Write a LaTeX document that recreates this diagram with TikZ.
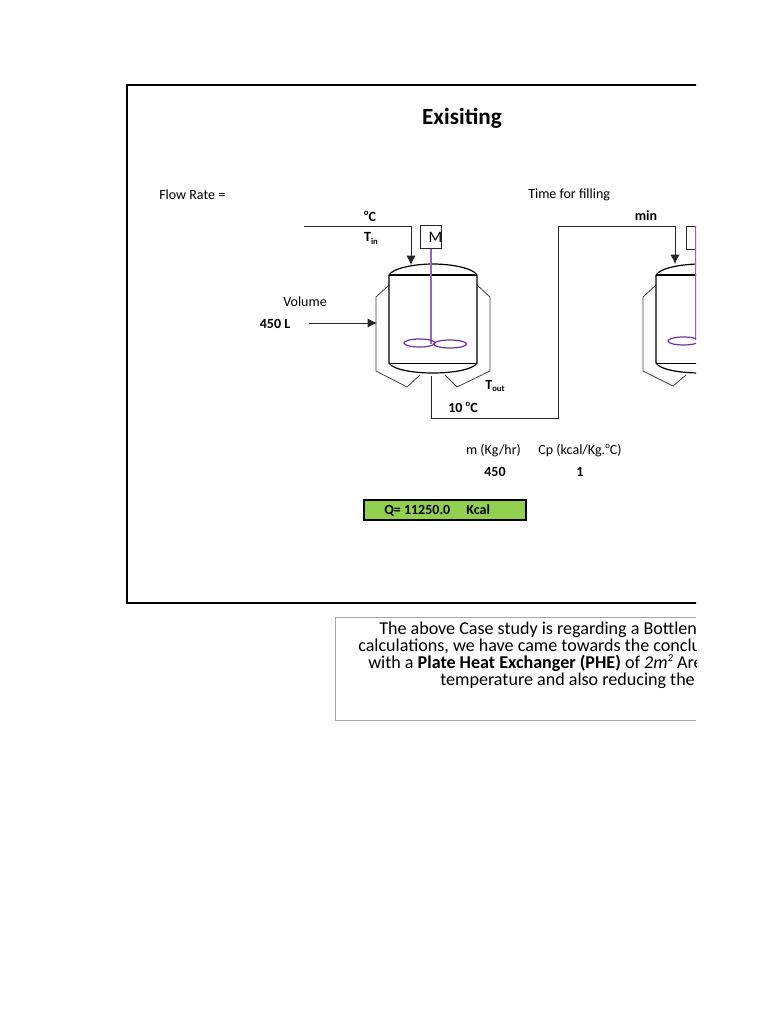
\documentclass[tikz,border=0pt]{standalone}
\usepackage{fontspec}
\setmainfont{Carlito}
\usetikzlibrary{arrows.meta}
\definecolor{agit}{HTML}{7030A0}
\definecolor{jack}{HTML}{404040}
\definecolor{qgreen}{HTML}{92D050}
\newcommand{\degsup}{\raisebox{0.42em}{\fontsize{6.5pt}{7pt}\selectfont o}}
\newcommand{\lowsub}[1]{\raisebox{-0.2em}{\fontsize{6.5pt}{7pt}\selectfont #1}}
\tikzset{
  lbl/.style={inner sep=0pt,font=\fontsize{10.5pt}{12pt}\selectfont},
  blbl/.style={inner sep=0pt,font=\fontsize{10.5pt}{12pt}\selectfont\bfseries},
  pipe/.style={draw=black!85,line width=0.75pt},
  flow/.style={pipe,-{Latex[length=7pt,width=7pt]}},
  vessel/.style={draw=black,line width=0.9pt},
  topline/.style={draw=black,line width=1.4pt},
  jacket/.style={draw=jack,line width=0.6pt},
  motor/.style={draw=black!85,line width=0.6pt,fill=white,minimum width=15.75pt,minimum height=17.5pt,inner sep=0pt},
  shaft/.style={draw=agit!75,line width=0.8pt},
  blade/.style={draw=agit,line width=0.9pt},
  para/.style={inner sep=0pt,anchor=base west,font=\fontsize{13.55pt}{15pt}\selectfont}
}
\begin{document}
\begin{tikzpicture}[x=0.75pt,y=-0.75pt]
\useasboundingbox[fill=white] (0,0) rectangle (768,1024);
\begin{scope}
\clip (0,0) rectangle (696,1024);
% frame
\draw[draw=black,line width=1.6pt] (800,85) -- (127,85) -- (127,603) -- (800,603);
\node[inner sep=0pt,font=\fontsize{17.4pt}{19pt}\selectfont\bfseries] (title) at (462,118) {Exisiting};
\node[lbl,anchor=west] (flowrate) at (159,195) {Flow Rate =};
\node[lbl,anchor=west] (timefill) at (528,195) {Time for filling};
\node[blbl] (degc) at (370,216) {\degsup C};
\node[blbl] (tin) at (371,238.5) {T\lowsub{in}};
\node[blbl] (minlbl) at (646,216) {min};
\node[lbl] (volume) at (305,302) {Volume};
\node[blbl] (vol) at (275,324) {450 L};
\node[blbl] (tout) at (495,386) {T\lowsub{out}};
\node[blbl] (tenc) at (463,407.5) {10 \degsup C};
\node[lbl] (mlbl) at (493.5,450.5) {m (Kg/hr)};
\node[lbl] (cplbl) at (580,450.5) {Cp (kcal/Kg.\degsup C)};
\node[blbl] (mval) at (495,472) {450};
\node[blbl] (cpval) at (580,472) {1};
\node[draw=black,line width=1.6pt,fill=qgreen,minimum width=122pt,minimum height=14.5pt,inner sep=0pt] (qbox) at (445,510) {};
\node[blbl,anchor=west] (qtext) at (384,510.5) {Q= 11250.0\hspace{1.15em}Kcal};
% left vessel
\draw[jacket] (389,285) -- (376,297) -- (376,371) -- (407,387) -- (420,375);
\draw[jacket] (477,285) -- (490,297) -- (490,371) -- (457,387) -- (445,375);
\draw[vessel] (389,275) -- (389,363) .. controls (393,370) and (415,373) .. (433,373) .. controls (451,373) and (473,370) .. (477,363) -- (477,275);
\draw[vessel] (389,275) .. controls (393,268) and (415,264) .. (433,264) .. controls (451,264) and (473,268) .. (477,275);
\draw[topline] (389,275) -- (477,275);
\draw[vessel,line width=0.7pt] (389,363) -- (477,363);
\node[motor,anchor=north west] (motorA) at (420,225) {};
\begin{scope}
\clip (420,225) rectangle (441,249);
\node[font=\fontsize{12pt}{13pt}\selectfont,inner sep=0pt] (mA) at (435.5,237) {M};
\end{scope}
\coordinate (hubA) at (431,344);
\draw[shaft] (motorA.south -| hubA) -- (hubA);
\draw[blade] (419.5,343) ellipse (15.5 and 4);
\draw[blade] (450,344) ellipse (16.5 and 4);
% right vessel
\draw[jacket] (656,285) -- (643,297) -- (643,371) -- (673,386) -- (686,375);
\draw[vessel] (656,275) -- (656,363) .. controls (660,370) and (682,373) .. (700,373);
\draw[vessel] (656,275) .. controls (660,268) and (682,264) .. (700,264);
\draw[topline] (656,275) -- (700,275);
\draw[vessel,line width=0.7pt] (656,363) -- (700,363);
\node[motor,anchor=north west] (motorB) at (686,226) {};
\coordinate (hubB) at (696,340);
\draw[shaft] (696,226) -- (hubB);
\draw[blade] (683.5,341) ellipse (15.5 and 4);
\draw[blade] (714,342) ellipse (16.5 and 4);
% connectors
\coordinate (inletstart) at (304,226);
\coordinate (inletend) at (411,265);
\coordinate (volstart) at (309,323);
\coordinate (volend) at (377,323);
\coordinate (outA) at (431,376);
\coordinate (inB) at (675,264);
\draw[flow] (inletstart) -- (inletstart -| inletend) -- (inletend);
\draw[flow] (volstart) -- (volend);
\draw[flow] (outA) -- (431,418) -- (558,418) -- (558,226) -- (inB |- 0,226) -- (inB);
% note
\draw[draw=black!35,line width=0.7pt] (800,617) -- (335,617) -- (335,720) -- (800,720);
\node[para] (l1) at (379,634) {The above Case study is regarding a Bottlen};
\node[para] (l2) at (358,651.3) {calculations, we have came towards the conclu};
\node[para] (l3) at (368,668.6) {with a \textbf{Plate Heat Exchanger (PHE)} of \textit{2m}\raisebox{0.42em}{\fontsize{8pt}{9pt}\selectfont\itshape 2} Are};
\node[para] (l4) at (440,685.9) {temperature and also reducing the};
\end{scope}
\end{tikzpicture}
\end{document}
